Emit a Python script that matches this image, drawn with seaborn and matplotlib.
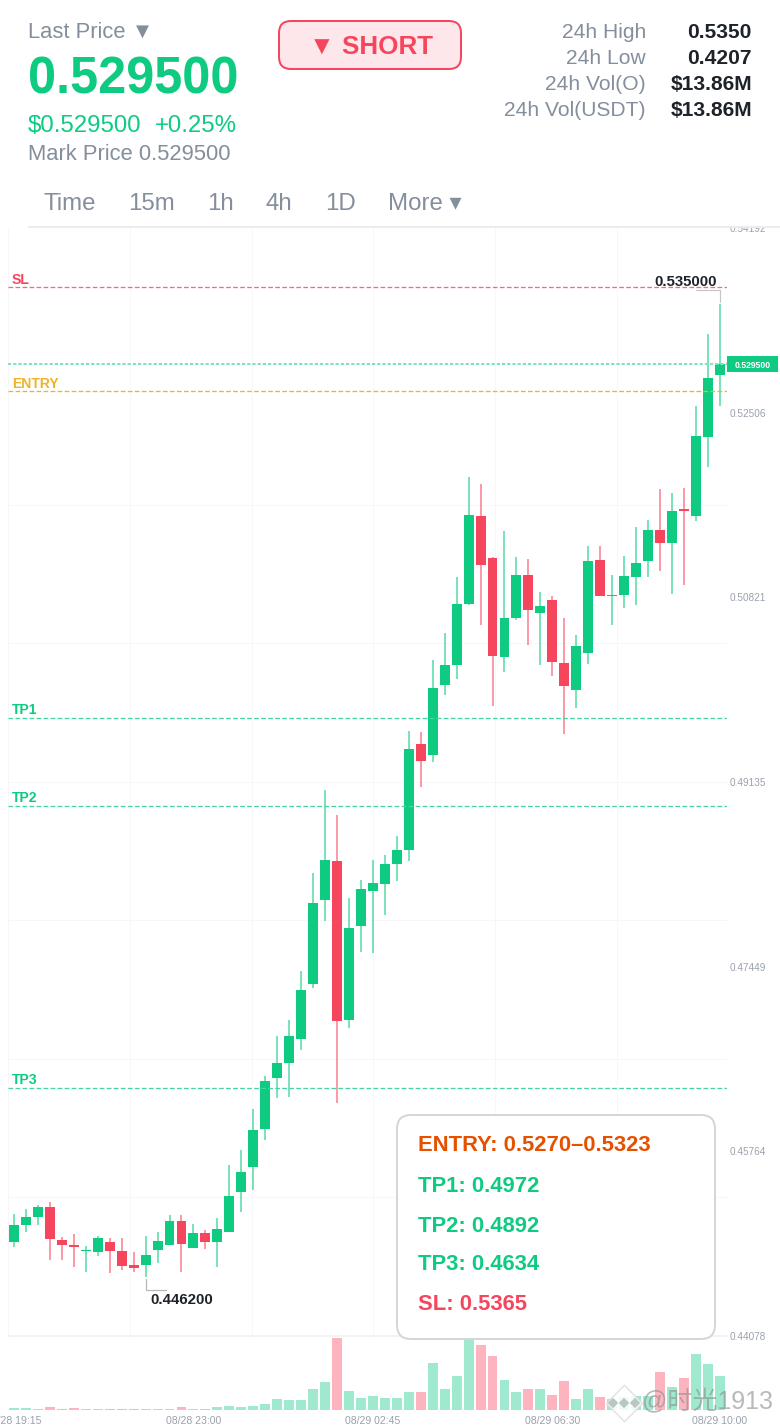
import numpy as np
import pandas as pd
import matplotlib
matplotlib.use('Agg')
import matplotlib.pyplot as plt
from matplotlib.patches import FancyBboxPatch, Rectangle
import seaborn as sns

# ---------------------
# data
# ---------------------
opens = [.44940, .45092, .45163, .45254, .44953, .44910, .44852, .44843, .44934, .44852,
         .44730, .44730, .44864, .44913, .45132, .44882, .45019, .44934, .45026, .45394,
         .45622, .45969, .46435, .46574, .46791, .47293, .48062, .48413, .46964, .47822,
         .48142, .48203, .48382, .48513, .49484, .49384, .50023, .50203, .50762, .51563,
         .51182, .50276, .50634, .51021, .50674, .50792, .50223, .49974, .50315, .51164,
         .50835, .50844, .51002, .51155, .51431, .51316, .51623, .51566, .52287, .52847]
closes = [.45092, .45163, .45254, .44962, .44913, .44892, .44864, .44971, .44852, .44721,
          .44700, .44821, .44944, .45132, .44919, .45019, .44934, .45053, .45360, .45576,
          .45960, .46410, .46571, .46821, .47232, .48032, .48422, .46955, .47801, .48160,
          .48212, .48391, .48513, .49432, .49331, .49995, .50203, .50762, .51572, .51116,
          .50281, .50632, .51021, .50705, .50744, .50226, .50014, .50372, .51152, .50832,
          .50844, .51011, .51130, .51431, .51316, .51611, .51605, .52296, .52823, .52950]
highs = [.45193, .45241, .45275, .45302, .44983, .45010, .44901, .44992, .44971, .44971,
         .44843, .44992, .45031, .45184, .45184, .45102, .45047, .45154, .45640, .45777,
         .46152, .46453, .46821, .46964, .47411, .48303, .49064, .48833, .48072, .48242,
         .48425, .48471, .48644, .49603, .49594, .50251, .50495, .51002, .51922, .51855,
         .51191, .51422, .51191, .51173, .50872, .50835, .50632, .50473, .51292, .51292,
         .51024, .51200, .51462, .51523, .51812, .51773, .51821, .52570, .53225, .53500]
lows = [.44894, .45031, .45092, .44773, .44773, .44712, .44663, .44812, .44651, .44682,
        .44663, .44620, .44743, .44913, .44663, .44882, .44873, .44712, .45026, .45214,
        .45412, .45868, .46252, .46264, .46690, .47254, .47862, .46204, .46885, .47585,
        .47573, .47923, .48233, .48413, .49085, .49322, .49931, .50075, .50747, .50564,
        .49825, .50135, .50616, .50381, .50205, .50105, .49575, .49813, .50214, .50832,
        .50570, .50723, .50753, .51002, .51063, .50853, .50936, .51514, .52007, .52564]
volumes = [2, 2, 0.7, 3, 1.5, 2, 1, 1, 1, 1,
           0.8, 1, 1, 1.3, 3.5, 1.2, 0.8, 2.7, 4.5, 3,
           4.5, 6, 10.7, 9.7, 10, 21.3, 28, 72, 19, 12,
           13.7, 12.5, 12.3, 18.3, 18.3, 46.7, 21, 34.3, 71, 65,
           53.7, 30, 17.7, 21, 21, 15.3, 29, 11.3, 21, 12.7,
           11, 13, 14, 14, 38.3, 22.7, 32, 56, 45.7, 34]

price_ticks = [0.54192, 0.52506, 0.50821, 0.49135, 0.47449, 0.45764, 0.44078]
time_positions = [0, 15, 30, 45, 59]
time_labels = ['08/28 19:15', '08/28 23:00', '08/29 02:45', '08/29 06:30', '08/29 10:00']

last_price = 0.5295
sl_level = 0.5365
entry_level = 0.5270
tp1_level = 0.4972
tp2_level = 0.4892
tp3_level = 0.4634

GREEN = '#0ecb81'
RED = '#f6465d'
GRAY = '#848e9c'
DARK = '#1e2329'
W, H = 780, 1428

sns.set_theme(style='white')
plt.rcParams['font.family'] = ['Liberation Sans', 'DejaVu Sans', 'Noto Sans CJK SC']


def px(size):
    # pixels to points at dpi 100
    return size * 0.72


def box_for(x0, y0, x1, y1):
    # pixel box (top-left origin) to figure fractions
    return [x0 / W, 1 - y1 / H, (x1 - x0) / W, (y1 - y0) / H]


df = pd.DataFrame({'idx': range(len(opens)), 'open': opens, 'close': closes,
                   'high': highs, 'low': lows, 'volume': volumes})
df['dir'] = np.where(df['close'] >= df['open'], 'up', 'down')
df['base'] = df[['open', 'close']].min(axis=1)
df['body'] = (df['close'] - df['open']).abs()

fig = plt.figure(figsize=(W / 100, H / 100), dpi=100, facecolor='white')

# fixed screen grid sits behind everything
bg = fig.add_axes([0, 0, 1, 1], zorder=0)
bg.set_xlim(0, W)
bg.set_ylim(H, 0)
bg.axis('off')
for x in [8, 130, 252, 373, 495, 617]:
    bg.plot([x, x], [228, 1336], color='#f6f7f8', lw=px(1))
for y in [505, 643, 782, 920, 1059, 1197]:
    bg.plot([8, 727], [y, y], color='#f7f7f8', lw=px(1))
bg.plot([8, 727], [1336, 1336], color='#f0f1f3', lw=px(1.6))

# ---------------------
# candles
# ---------------------
ax = fig.add_axes(box_for(8, 228, 727, 1336), zorder=1)
ax.patch.set_alpha(0)
colors = [GREEN if d == 'up' else RED for d in df['dir']]
ax.vlines(df['idx'], df['low'], df['high'], colors=colors, lw=px(1.8), alpha=0.6, zorder=1)
for name, color in [('up', GREEN), ('down', RED)]:
    part = df[df['dir'] == name]
    sns.barplot(data=part, x='idx', y='body', bottom=part['base'].to_numpy(), native_scale=True,
                color=color, saturation=1, width=0.83, errorbar=None, linewidth=0, ax=ax, zorder=2)

for level, color, lw, dash in [(sl_level, '#f7697c', 1.3, (3.6, 1.8)),
                               (entry_level, '#eeb32b', 1.3, (3.6, 1.8)),
                               (tp1_level, '#45d6a0', 1.3, (3.6, 1.8)),
                               (tp2_level, '#45d6a0', 1.3, (3.6, 1.8)),
                               (tp3_level, '#45d6a0', 1.3, (3.6, 1.8)),
                               (last_price, '#7fe3bf', 2.0, (1.6, 1))]:
    ax.axhline(level, color=color, lw=px(lw), dashes=dash, zorder=3)

ax.set_xlim(-0.5, 59.6)
ax.set_ylim(0.44078, 0.54192)
ax.set_xticks([])
ax.yaxis.tick_right()
ax.set_yticks(price_ticks, [f'{t:.5f}' for t in price_ticks])
ax.tick_params(axis='y', length=0, pad=px(3), labelsize=px(10), labelcolor='#9aa1ad')
ax.set_xlabel('')
ax.set_ylabel('')
sns.despine(ax=ax, left=True, bottom=True, right=True, top=True)

# ---------------------
# volume
# ---------------------
vol = fig.add_axes(box_for(8, 1338, 727, 1410), zorder=1)
vol.patch.set_alpha(0)
sns.barplot(data=df, x='idx', y='volume', hue='dir', palette={'up': '#9feacf', 'down': '#fdb4bf'},
            saturation=1, dodge=False, native_scale=True, width=0.83, errorbar=None, linewidth=0,
            legend=False, ax=vol)
vol.set_xlim(-0.5, 59.6)
vol.set_ylim(0, 72)
vol.set_yticks([])
vol.set_xticks(time_positions, time_labels)
vol.tick_params(axis='x', length=0, pad=px(6), labelsize=px(10.5), labelcolor='#9aa1ad')
vol.set_xlabel('')
vol.set_ylabel('')
sns.despine(ax=vol, left=True, bottom=True, right=True, top=True)

# ---------------------
# header, panel and labels in screen pixels
# ---------------------
ov = fig.add_axes([0, 0, 1, 1], zorder=5)
ov.patch.set_alpha(0)
ov.set_xlim(0, W)
ov.set_ylim(H, 0)
ov.axis('off')


def label(x, y, s, size, color, weight='normal', ha='left', **kw):
    # va=center sits a little high for this font
    ov.text(x, y + 1.5, s, fontsize=px(size), color=color, fontweight=weight, ha=ha, va='center', **kw)


ov.add_patch(Rectangle((0, 0), W, 227, fc='white', ec='none'))
ov.plot([28, W], [227, 227], color='#eaecef', lw=px(2), solid_capstyle='butt')

label(28, 31, 'Last Price ▼', 22, GRAY)
label(28, 79, '0.529500', 50.5, GREEN, 'bold')
label(28, 124, '$0.529500', 24, GREEN)
label(155, 124, '+0.25%', 24, GREEN)
label(28, 153, 'Mark Price 0.529500', 22, GRAY)

ov.add_patch(FancyBboxPatch((279, 21), 182, 48, boxstyle='round,pad=0,rounding_size=12',
                            fc='#fee7ea', ec=RED, lw=px(2)))
label(371, 45, '▼ SHORT', 26, RED, 'bold', ha='center')

stats = [('24h High', '0.5350', 31), ('24h Low', '0.4207', 57),
         ('24h Vol(O)', '$13.86M', 83), ('24h Vol(USDT)', '$13.86M', 109)]
for name, val, y in stats:
    label(646, y, name, 21, GRAY, ha='right')
    label(752, y, val, 21, DARK, 'bold', ha='right')

for x, tab in [(44, 'Time'), (128, '15m'), (207, '1h'), (266, '4h'), (325, '1D'), (388, 'More ▾')]:
    label(x, 202, tab, 24, GRAY)

# level names
label(12, 278, 'SL', 14, RED, 'bold')
label(12, 382, 'ENTRY', 14, '#eeb32b', 'bold')
label(12, 709, 'TP1', 14, GREEN, 'bold')
label(12, 797, 'TP2', 14, GREEN, 'bold')
label(12, 1079, 'TP3', 14, GREEN, 'bold')

# last price tag
ov.add_patch(Rectangle((727, 356), 51, 16, fc=GREEN, ec='none'))
label(752.5, 363.5, '0.529500', 8.6, 'white', 'bold', ha='center')

# high / low callouts
ov.plot([696, 720, 720], [290, 290, 302], color='#c4c6c9', lw=px(1.2))
label(654, 281, '0.535000', 15, DARK, 'bold')
ov.plot([146, 146, 166], [1279, 1290, 1290], color='#b4b6b9', lw=px(1.2))
label(150, 1298, '0.446200', 15, DARK, 'bold')

# info panel
ov.add_patch(FancyBboxPatch((397, 1115), 318, 224, boxstyle='round,pad=0,rounding_size=14',
                            fc='white', ec='#d3d7dc', lw=px(2)))
label(418, 1144, 'ENTRY: 0.5270–0.5323', 22, '#e65100', 'bold')
label(418, 1185, 'TP1: 0.4972', 22, GREEN, 'bold')
label(418, 1225, 'TP2: 0.4892', 22, GREEN, 'bold')
label(418, 1263, 'TP3: 0.4634', 22, GREEN, 'bold')
label(418, 1303, 'SL: 0.5365', 22, RED, 'bold')

# watermark
ov.scatter([624], [1403], marker='D', s=340, fc='#ffffff', ec='#dcdcdc', lw=1, alpha=0.85)
ov.scatter([613, 624, 635], [1403, 1403, 1403], marker='D', s=28, fc='#b9c7c0', ec='none')
ov.text(642, 1402, '@时光1913', fontsize=px(25), color='#8e8e8e', alpha=0.62, ha='left', va='center',
        family=['Liberation Sans', 'Noto Sans CJK SC'])

fig.savefig('out.png', dpi=100)
